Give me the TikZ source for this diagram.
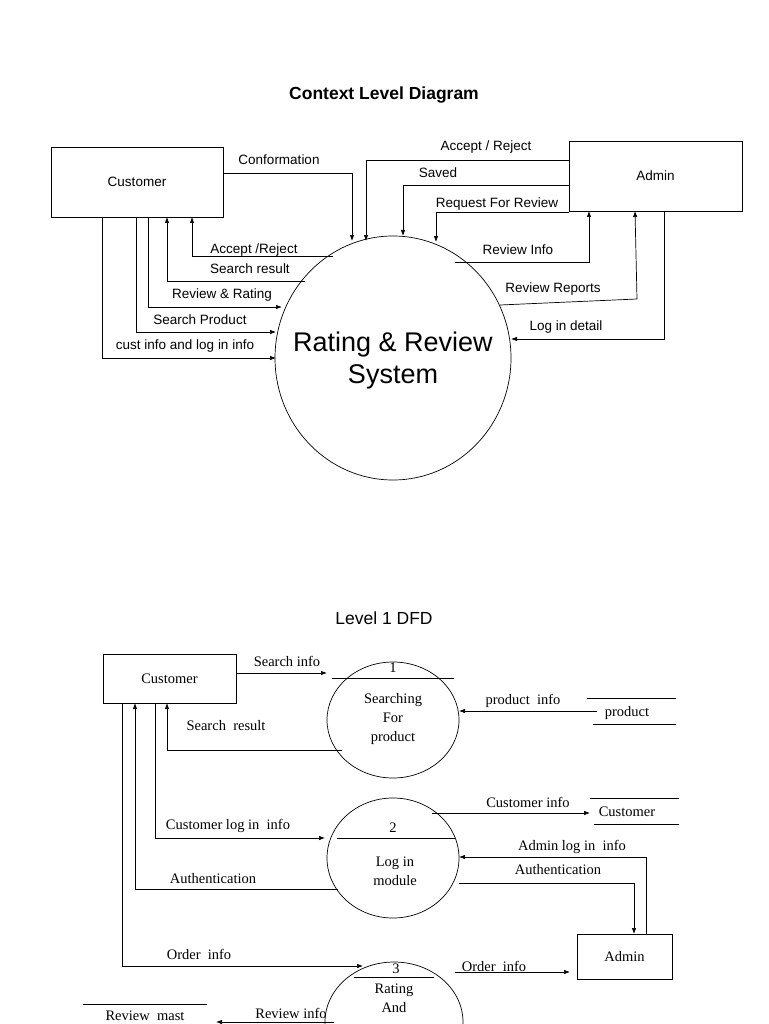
\documentclass[tikz,border=0pt]{standalone}
\usepackage{fontspec}
\setmainfont{Liberation Serif}
\newfontfamily\arialf{Liberation Sans}
\usetikzlibrary{arrows.meta,shapes.geometric}
\begin{document}
\begin{tikzpicture}[x=1pt,y=-1pt,
  ln/.style={line width=0.7pt},
  ar/.style={ln,-{Latex[length=6pt,width=4.5pt]}},
  ts/.style={font=\arialf\fontsize{13.5}{15}\selectfont,inner sep=0pt},
  tr/.style={font=\fontsize{14.5}{19}\selectfont,inner sep=0pt,align=center}]
\useasboundingbox (0,0) rectangle (768,1024);
\clip (0,0) rectangle (768,1024);
% ---------- Context level
\node[font=\arialf\bfseries\fontsize{17.5}{20}\selectfont] (t1) at (384,95) {Context Level Diagram};
\node[ln,draw,minimum width=172pt,minimum height=70pt,ts] (cust) at (137,182) {Customer};
\node[ln,draw,minimum width=173pt,minimum height=70pt,ts] (adm) at (655.5,176) {Admin};
\node[ln,draw,ellipse,minimum width=236pt,minimum height=244pt,inner sep=0pt] (sys) at (393,358) {};
\node[font=\arialf\fontsize{27}{32}\selectfont,align=center] (syst) at (393,361) {Rating \& Review\\System};
\draw[ar] (223,173) -- (352,173) -- (352,241);
\node[ts] (l1) at (279,160) {Conformation};
\draw[ar] (569,160) -- (366,160) -- (366,241);
\node[ts] (l2) at (486,147) {Accept / Reject};
\draw[ar] (569,185) -- (403,185) -- (403,236);
\node[ts] (l3) at (438,173) {Saved};
\draw[ar] (569,212) -- (436,212) -- (436,242);
\node[ts] (l4) at (497,204) {Request For Review};
\draw[ar] (333,256) -- (192,256) -- (192,217);
\node[ts] (l5) at (254,250) {Accept /Reject};
\draw[ar] (305,281) -- (167,281) -- (167,217);
\node[ts] (l6) at (250,269) {Search result};
\draw[ar] (148,217) -- (148,307) -- (282,307);
\node[ts] (l7) at (222,295) {Review \& Rating};
\draw[ar] (136,217) -- (136,332) -- (276,332);
\node[ts] (l8) at (200,320) {Search Product};
\draw[ar] (102,217) -- (102,358) -- (276,358);
\node[ts] (l9) at (185,346) {cust info and log in info};
\draw[ar] (455,262) -- (589,262) -- (589,211);
\node[ts] (l10) at (518,250) {Review Info};
\draw[ar] (500,305) -- (637,299) -- (635,211);
\node[ts] (l11) at (553,289) {Review Reports};
\draw[ar] (664,211) -- (664,339) -- (511,339);
\node[ts] (l12) at (566,327) {Log in detail};
% ---------- Level 1
\node[font=\arialf\fontsize{17.5}{20}\selectfont] (t2) at (384,618) {Level 1 DFD};
\node[ln,draw,minimum width=133pt,minimum height=49pt,tr] (c2) at (169.5,678.5) {Customer};
\node[ln,draw,minimum width=95pt,minimum height=45pt,tr] (a2) at (624.5,956.5) {Admin};
\node[ln,draw,ellipse,minimum width=132pt,minimum height=116pt,inner sep=0pt] (p1) at (393,720) {};
\draw[ln] (332,678) -- (454,678);
\node[tr] (p1n) at (393,668) {1};
\node[tr] (p1t) at (393,719) {Searching\\For\\product};
\node[ln,draw,ellipse,minimum width=132pt,minimum height=120pt,inner sep=0pt] (p2) at (393,858) {};
\draw[ln] (337,838) -- (455,838);
\node[tr] (p2n) at (393,828) {2};
\node[tr] (p2t) at (395,871) {Log in\\module};
\node[ln,draw,ellipse,minimum width=138pt,minimum height=120pt,inner sep=0pt] (p3) at (394,1022) {};
\draw[ln] (354,977) -- (434,977);
\node[tr] (p3n) at (396,969) {3};
\node[tr,align=center] (p3t) at (394,998) {Rating\\And};
% stores
\draw[ln] (587,698) -- (676,698) (593,724) -- (676,724);
\node[tr] (s1) at (627,713) {product};
\draw[ln] (590,798) -- (679,798) (594,824) -- (679,824);
\node[tr] (s2) at (627,812) {Customer};
\draw[ln] (83,1004) -- (207,1004);
\node[tr] (s3) at (145,1016) {Review\ \ mast};
% flows
\draw[ar] (236,673) -- (327,673);
\node[tr] (f1) at (287,661) {Search info};
\draw[ar] (342,750) -- (167,750) -- (167,703);
\node[tr] (f2) at (226,726) {Search\ \ result};
\draw[ar] (597,711) -- (459,711);
\node[tr] (f3) at (523,701) {product\ \ info};
\draw[ar] (155,703) -- (155,838) -- (325,838);
\node[tr] (f4) at (228,826) {Customer log in\ \ info};
\draw[ar] (338,889) -- (135,889) -- (135,703);
\node[tr] (f5) at (213,879) {Authentication};
\draw[ar] (432,813) -- (590,813);
\node[tr] (f6) at (528,802) {Customer info};
\draw[ar] (646,934) -- (646,857) -- (459,857);
\node[tr] (f7) at (572,847) {Admin log in\ \ info};
\draw[ar] (459,883) -- (634,883) -- (634,934);
\node[tr] (f8) at (558,870) {Authentication};
\draw[ar] (122,703) -- (122,966) -- (363,966);
\node[tr] (f9) at (199,954) {Order\ \ info};
\draw[ar] (455,972) -- (570,972);
\node[tr] (f10) at (494,966) {Order\ \ info};
\draw[ar] (334,1022) -- (216,1022);
\node[tr] (f11) at (291,1013) {Review info};
\end{tikzpicture}
\end{document}
